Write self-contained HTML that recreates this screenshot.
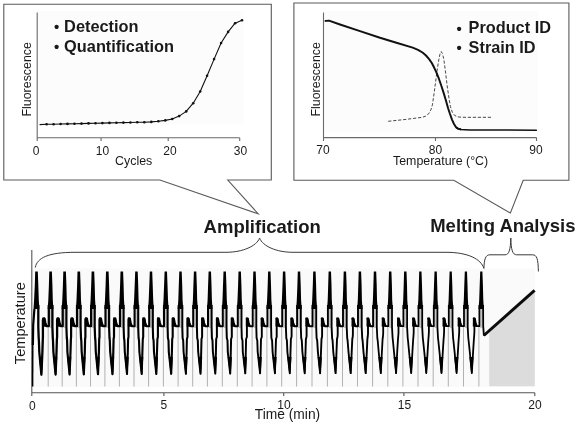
<!DOCTYPE html>
<html><head><meta charset="utf-8"><title>Rapid-cycle PCR with melting analysis</title>
<style>
html,body{margin:0;padding:0;background:#fff;}
body{width:579px;height:428px;overflow:hidden;}
svg{display:block;}
text{font-family:"Liberation Sans",Arial,Helvetica,sans-serif;fill:#1a1a1a;}
.b{font-weight:bold;fill:#111;}
.ax{stroke:#6a6a6a;stroke-width:1.1;fill:none;}
.box{stroke:#5a5a5a;stroke-width:1.1;fill:none;stroke-linejoin:miter;}
.br{stroke:#3a3a3a;stroke-width:1;fill:none;}
</style></head><body>
<svg width="579" height="428" viewBox="0 0 579 428">
<rect width="579" height="428" fill="#fff"/>
<!-- faint plot backgrounds -->
<rect x="37.5" y="11" width="206.6" height="113.3" fill="#fcfcfc"/>
<rect x="324" y="11" width="214" height="120.5" fill="#fcfcfc"/>
<rect x="32.3" y="268.5" width="502.7" height="118.5" fill="#fafafa"/>
<!-- callout boxes -->
<path class="box" d="M3.8 4.2H271.3V180H227.8L258.2 213.9L159.9 180H3.8Z"/>
<path class="box" d="M293.9 3H568.9V180.3H523.2L510.4 213L453.8 180.3H293.9Z"/>
<!-- left panel: amplification curve -->
<path class="ax" d="M37.2 12.4V137.8H239.7M37.2 137.8V141M101.1 137.8V141M168.2 137.8V141M239.7 137.8V141"/>
<g font-size="12" text-anchor="middle">
<text x="36" y="154.8">0</text><text x="102.5" y="154.8">10</text><text x="170" y="154.8">20</text><text x="240.5" y="154.8">30</text>
<text x="133.7" y="165.4" font-size="12.4">Cycles</text>
<text transform="translate(30.6 79.3) rotate(-90)" font-size="12.4">Fluorescence</text>
</g>
<path d="M39.6 124.6 L46.6 124.3 L53.6 124.2 L60.6 124 L67.5 123.9 L74.5 123.7 L81.5 123.6 L88.5 123.4 L95.5 123.2 L102.4 123.1 L109.4 122.9 L116.4 122.8 L123.4 122.6 L130.4 122.5 L137.3 122.3 L144.3 122.2 L151.3 121.9 L158.3 121.3 L165.3 120.4 L172.2 119 L179.2 116.1 L186.2 111.4 L193.2 103.2 L200.2 91.5 L207.1 75.8 L214.1 59.1 L221.1 43 L228.1 31.9 L235.1 23.2 L242 20.3" fill="none" stroke="#111" stroke-width="1.1" stroke-linejoin="round"/>
<g fill="#111"><circle cx="46.6" cy="124.3" r="1.3"/><circle cx="53.6" cy="124.2" r="1.3"/><circle cx="60.6" cy="124" r="1.3"/><circle cx="67.5" cy="123.9" r="1.3"/><circle cx="74.5" cy="123.7" r="1.3"/><circle cx="81.5" cy="123.6" r="1.3"/><circle cx="88.5" cy="123.4" r="1.3"/><circle cx="95.5" cy="123.2" r="1.3"/><circle cx="102.4" cy="123.1" r="1.3"/><circle cx="109.4" cy="122.9" r="1.3"/><circle cx="116.4" cy="122.8" r="1.3"/><circle cx="123.4" cy="122.6" r="1.3"/><circle cx="130.4" cy="122.5" r="1.3"/><circle cx="137.3" cy="122.3" r="1.3"/><circle cx="144.3" cy="122.2" r="1.3"/><circle cx="151.3" cy="121.9" r="1.3"/><circle cx="158.3" cy="121.3" r="1.3"/><circle cx="165.3" cy="120.4" r="1.3"/><circle cx="172.2" cy="119" r="1.3"/><circle cx="179.2" cy="116.1" r="1.3"/><circle cx="186.2" cy="111.4" r="1.3"/><circle cx="193.2" cy="103.2" r="1.3"/><circle cx="200.2" cy="91.5" r="1.3"/><circle cx="207.1" cy="75.8" r="1.3"/><circle cx="214.1" cy="59.1" r="1.3"/><circle cx="221.1" cy="43" r="1.3"/><circle cx="228.1" cy="31.9" r="1.3"/><circle cx="235.1" cy="23.2" r="1.3"/><circle cx="242" cy="20.3" r="1.3"/></g>
<g class="b" font-size="16.35"><text x="54" y="31.8"><tspan font-size="15" dy="0.2">•</tspan><tspan x="64.1" dy="-0.2">Detection</tspan></text><text x="54" y="51.7"><tspan font-size="15" dy="0.2">•</tspan><tspan x="64.1" dy="-0.2">Quantification</tspan></text></g>
<!-- right panel: melting curve -->
<path class="ax" d="M323.5 12.4V137.6H536.5M323.5 137.6V141M435.5 137.6V141M536.5 137.6V141"/>
<g font-size="12" text-anchor="middle">
<text x="323" y="154">70</text><text x="435.5" y="154">80</text><text x="536" y="154">90</text>
<text x="440.6" y="165" font-size="12.4">Temperature (°C)</text>
<text transform="translate(319.6 79.3) rotate(-90)" font-size="12.4">Fluorescence</text>
</g>
<path d="M388.2 121.3 L405 119.5 L422.5 117.3 L426.5 115.8 L429.1 113.1 L431 109.5 L432.4 104.9 L434 94 L435.6 82 L437.3 69 L438.9 59.1 L440 54 L441.2 51.6 L442.4 53.5 L443.8 59.1 L445.4 71 L447.1 85.3 L448.8 97 L450.4 106.5 L452.3 112.2 L454.6 115.4 L457.5 116.8 L461.8 117.3 L491.3 117.3" fill="none" stroke="#333" stroke-width="0.9" stroke-dasharray="3.2 1.8"/>
<path d="M457 128.2 L460.5 129.5 L470 129.9 L536.4 130.2" fill="none" stroke="#111" stroke-width="1.5" stroke-linejoin="round" stroke-linecap="round"/>
<path d="M325.5 20.9 L329 20.7 L340 24.5 L360 31.2 L380 37.8 L396.4 42.7 L412.7 47.6 L418 49.8 L422.5 52.5 L426 55.5 L429.1 59.1 L431.8 63 L434 67.3 L436.5 72.7 L438.9 78.7 L441.4 86 L443.8 93.4 L446 100.8 L448.1 108.2 L450 114 L452 119.6 L454 124 L455.9 127.1 L458 128.6 L460.5 129.3" fill="none" stroke="#111" stroke-width="1.95" stroke-linejoin="round" stroke-linecap="round"/>
<g class="b" font-size="16.3"><text x="456.5" y="33.3"><tspan font-size="15" dy="0.2">•</tspan><tspan x="468.6" dy="-0.2">Product ID</tspan></text><text x="456.5" y="52.8"><tspan font-size="15" dy="0.2">•</tspan><tspan x="468.6" dy="-0.2">Strain ID</tspan></text></g>
<!-- headings and braces -->
<g class="b" font-size="18.5"><text x="203.6" y="232.5">Amplification</text><text x="430.2" y="232">Melting Analysis</text></g>
<path class="br" d="M35.3 267.5C37 258 48 252.3 75 252.3H226C243 252.3 256.5 246 259.6 238.1C262.7 246 276 252.3 293 252.3H446C468 252.3 481 259 483.9 268.4"/>
<path class="br" d="M483.9 268.4C484.3 259 485.5 254.8 490 254.8H505C509 254.8 510.5 250 510.8 238C511.1 250 512.6 254.8 516.6 254.8H532.5C537 254.8 538.1 259 538.4 271.5"/>
<!-- bottom panel: temperature trace -->
<path d="M489.2 386.3V331L534.8 290.5V386.3Z" fill="#dcdcdc"/>
<path d="M48.2 326V386.5M62.2 326V386.5M76.4 326V386.5M90.5 326V386.5M104.9 326V386.5M119.4 326V386.5M134 326V386.5M148.6 326V386.5M163.4 326V386.5M178.1 326V386.5M192.7 326V386.5M207.4 326V386.5M222.3 326V386.5M237.3 326V386.5M252.1 326V386.5M266.9 326V386.5M281.7 326V386.5M296.6 326V386.5M312 326V386.5M327.4 326V386.5M342.5 326V386.5M357.5 326V386.5M372.6 326V386.5M387.8 326V386.5M402.9 326V386.5M418 326V386.5M433.2 326V386.5M448.3 326V386.5M463.5 326V386.5M478.9 326V386.5" stroke="#a8a8a8" stroke-width="0.9" fill="none"/>
<path d="M50.6 308V328M64.6 308V328M78.8 308V328M92.9 308V328M107.3 308V328M121.8 308V328M136.4 308V328M151 308V328M165.8 308V328M180.5 308V328M195.1 308V328M209.8 308V328M224.7 308V328M239.7 308V328M254.5 308V328M269.3 308V328M284.1 308V328M299 308V328M314.4 308V328M329.8 308V328M344.9 308V328M359.9 308V328M375 308V328M390.2 308V328M405.3 308V328M420.4 308V328M435.6 308V328M450.7 308V328M465.9 308V328M481.3 308V328" stroke="#c4c4c4" stroke-width="1.8" fill="none"/>
<path class="ax" style="stroke:#555" d="M31.8 250V392.8H534.8M31.8 392.8V396M163.9 392.8V396M283.7 392.8V396M403.9 392.8V396M534.8 392.8V396"/>
<defs><filter id="soft" x="-2%" y="-5%" width="104%" height="110%"><feGaussianBlur stdDeviation="0.5"/></filter></defs>
<g filter="url(#soft)"><g fill="none" stroke="#000" stroke-linejoin="round"><path d="M32.6 386.5 L32.8 340" stroke-width="1.5"/><path d="M32.9 345 L33.2 325 L34.4 309" stroke-width="2.2"/><path d="M38.3 305 L38.3 327 L38.7 338 L38.9 340.5 L39.3 352 L41.4 374.6 L42.4 352 L42.8 339 L42.9 337 L42.9 337 L42.9 320 L43.4 318.6 L44.5 318.6 L45.4 323 L46.5 326.2 L48.8 326.2 L48.8 305" stroke-width="2.3"/><path d="M52.4 305 L52.4 327 L52.8 338 L53 340.5 L53.4 352 L55.6 374.5 L56.5 352 L56.9 339 L57.1 337 L57.1 337 L57.1 320 L57.5 318.6 L58.7 318.6 L59.5 323 L60.7 326.2 L62.7 326.2 L62.7 305" stroke-width="2.3"/><path d="M66.4 305 L66.4 327 L66.8 338 L67.1 340.5 L67.4 352 L69.6 374.4 L70.5 352 L70.9 339 L71.1 337 L71.1 337 L71.1 320 L71.5 318.6 L72.7 318.6 L73.5 323 L74.7 326.2 L77 326.2 L77 305" stroke-width="2.2"/><path d="M80.6 305 L80.6 327 L81 338 L81.3 340.5 L81.7 352 L83.8 374.3 L84.8 352 L85.1 339 L85.4 337 L85.4 337 L85.4 320 L85.7 318.6 L86.9 318.6 L87.7 323 L88.9 326.2 L91.1 326.2 L91.1 305" stroke-width="2.2"/><path d="M94.7 305 L94.7 327 L95.1 338 L95.4 340.5 L95.8 352 L98 374.2 L98.9 352 L99.2 339 L99.5 337 L99.5 337 L99.5 320 L99.8 318.6 L101 318.6 L101.8 323 L103 326.2 L105.5 326.2 L105.5 305" stroke-width="2.2"/><path d="M109.1 305 L109.1 327 L109.5 338 L109.8 340.5 L110.2 352 L112.5 374.1 L113.3 352 L113.6 339 L114 337 L114 337 L114 320 L114.2 318.6 L115.4 318.6 L116.2 323 L117.4 326.2 L120 326.2 L120 305" stroke-width="2.2"/><path d="M123.6 305 L123.6 327 L124 338 L124.4 340.5 L124.8 352 L127 374 L127.8 352 L128.1 339 L128.5 337 L128.5 337 L128.5 320 L128.7 318.6 L129.9 318.6 L130.7 323 L131.9 326.2 L134.6 326.2 L134.6 305" stroke-width="2.1"/><path d="M138.2 305 L138.2 327 L138.6 338 L139 340.5 L139.4 352 L141.7 374 L142.4 352 L142.8 339 L143.2 337 L143.2 337 L143.2 320 L143.3 318.6 L144.5 318.6 L145.3 323 L146.5 326.2 L149.2 326.2 L149.2 305" stroke-width="2.1"/><path d="M152.8 305 L152.8 327 L153.1 338 L153.6 340.5 L154 352 L156.3 373.9 L157 352 L157.4 339 L157.9 337 L157.9 337 L157.9 320 L157.9 318.6 L159.1 318.6 L159.9 323 L161.1 326.2 L164 326.2 L164 305" stroke-width="2.1"/><path d="M167.6 305 L167.6 327 L167.9 338 L168.5 340.5 L168.8 352 L171.2 373.8 L171.9 352 L172.2 339 L172.7 337 L172.7 337 L172.7 320 L172.7 318.6 L173.9 318.6 L174.7 323 L175.9 326.2 L178.7 326.2 L178.7 305" stroke-width="2.1"/><path d="M182.3 305 L182.3 327 L182.6 338 L183.2 340.5 L183.6 352 L185.9 373.7 L186.6 352 L186.9 339 L187.5 337 L187.5 337 L187.5 320 L187.5 318.6 L188.7 318.6 L189.5 323 L190.7 326.2 L193.2 326.2 L193.2 305" stroke-width="2"/><path d="M196.9 305 L196.9 327 L197.2 338 L197.8 340.5 L198.2 352 L200.5 373.6 L201.2 352 L201.5 339 L202.1 337 L202.1 337 L202.1 320 L202.1 318.6 L203.3 318.6 L204.1 323 L205.3 326.2 L208 326.2 L208 305" stroke-width="2"/><path d="M211.6 305 L211.6 327 L211.9 338 L212.5 340.5 L212.9 352 L215.3 373.5 L215.9 352 L216.2 339 L216.9 337 L216.9 337 L216.9 320 L216.8 318.6 L218 318.6 L218.8 323 L220 326.2 L222.8 326.2 L222.8 305" stroke-width="2"/><path d="M226.5 305 L226.5 327 L226.8 338 L227.5 340.5 L227.8 352 L230.2 373.4 L230.8 352 L231.1 339 L231.8 337 L231.8 337 L231.8 320 L231.7 318.6 L232.9 318.6 L233.7 323 L234.9 326.2 L237.8 326.2 L237.8 305" stroke-width="2"/><path d="M241.5 305 L241.5 327 L241.8 338 L242.5 340.5 L242.8 352 L245.3 373.3 L245.8 352 L246.1 339 L246.9 337 L246.9 337 L246.9 320 L246.7 318.6 L247.9 318.6 L248.7 323 L249.9 326.2 L252.7 326.2 L252.7 305" stroke-width="1.9"/><path d="M256.3 305 L256.3 327 L256.6 338 L257.3 340.5 L257.7 352 L260.1 373.3 L260.7 352 L261 339 L261.8 337 L261.8 336.6 L261.8 320 L261.6 318.6 L262.8 318.6 L263.6 323 L264.8 326.2 L267.4 326.2 L267.4 305" stroke-width="1.9"/><path d="M271.1 305 L271.1 327 L271.4 338 L272.1 340.5 L272.6 352 L274.9 373.2 L275.6 352 L276 339 L276.7 337 L276.7 336.2 L276.7 320 L276.4 318.6 L277.6 318.6 L278.4 323 L279.6 326.2 L282.2 326.2 L282.2 305" stroke-width="1.9"/><path d="M285.9 305 L285.9 327 L286.3 338 L286.9 340.5 L287.4 352 L289.8 373.2 L290.5 352 L290.9 339 L291.5 337 L291.6 335.8 L291.6 320 L291.3 318.6 L292.5 318.6 L293.3 323 L294.5 326.2 L297.1 326.2 L297.1 305" stroke-width="1.9"/><path d="M300.8 305 L300.8 327 L301.2 338 L301.8 340.5 L302.4 352 L304.7 373.2 L305.5 352 L305.9 339 L306.5 337 L306.6 335.3 L306.6 320 L306.3 318.6 L307.5 318.6 L308.3 323 L309.5 326.2 L312.5 326.2 L312.5 305" stroke-width="1.9"/><path d="M316.2 305 L316.2 327 L316.6 338 L317.2 340.5 L317.9 352 L320.1 373.2 L321 352 L321.5 339 L322 337 L322.1 334.9 L322.1 320 L321.7 318.6 L322.9 318.6 L323.7 323 L324.9 326.2 L327.9 326.2 L327.9 305" stroke-width="1.9"/><path d="M331.6 305 L331.6 327 L332.1 338 L332.6 340.5 L333.3 352 L335.6 373.1 L336.5 352 L337 339 L337.5 337 L337.7 334.5 L337.7 320 L337.2 318.6 L338.4 318.6 L339.2 323 L340.4 326.2 L343 326.2 L343 305" stroke-width="1.9"/><path d="M346.7 305 L346.7 327 L347.2 338 L347.6 340.5 L348.5 352 L350.7 373.1 L351.7 352 L352.3 339 L352.7 337 L352.9 334.1 L352.9 320 L352.4 318.6 L353.6 318.6 L354.4 323 L355.6 326.2 L358 326.2 L358 305" stroke-width="1.9"/><path d="M361.7 305 L361.7 327 L362.2 338 L362.6 340.5 L363.5 352 L365.7 373.1 L366.8 352 L367.4 339 L367.7 337 L368 333.7 L368 320 L367.4 318.6 L368.6 318.6 L369.4 323 L370.6 326.2 L373.1 326.2 L373.1 305" stroke-width="1.9"/><path d="M376.8 305 L376.8 327 L377.3 338 L377.7 340.5 L378.7 352 L380.8 373.1 L381.9 352 L382.6 339 L382.9 337 L383.2 333.2 L383.2 320 L382.6 318.6 L383.8 318.6 L384.6 323 L385.8 326.2 L388.3 326.2 L388.3 305" stroke-width="1.8"/><path d="M392 305 L392 327 L392.6 338 L392.9 340.5 L394 352 L396.1 373.1 L397.2 352 L398 339 L398.2 337 L398.5 332.8 L398.5 320 L397.9 318.6 L399.1 318.6 L399.9 323 L401.1 326.2 L403.4 326.2 L403.4 305" stroke-width="1.8"/><path d="M407.1 305 L407.1 327 L407.7 338 L408 340.5 L409.1 352 L411.2 373 L412.4 352 L413.2 339 L413.4 337 L413.7 332.4 L413.7 320 L413 318.6 L414.2 318.6 L415 323 L416.2 326.2 L418.5 326.2 L418.5 305" stroke-width="1.8"/><path d="M422.2 305 L422.2 327 L422.8 338 L423.1 340.5 L424.3 352 L426.3 373 L427.6 352 L428.4 339 L428.6 337 L428.9 332 L428.9 320 L428.2 318.6 L429.4 318.6 L430.2 323 L431.4 326.2 L433.8 326.2 L433.8 305" stroke-width="1.8"/><path d="M437.4 305 L437.4 327 L438 338 L438.3 340.5 L439.5 352 L441.5 373 L442.8 352 L443.6 339 L443.8 337 L444.1 332 L444.1 320 L443.4 318.6 L444.6 318.6 L445.4 323 L446.6 326.2 L448.8 326.2 L448.8 305" stroke-width="1.8"/><path d="M452.5 305 L452.5 327 L453.1 338 L453.4 340.5 L454.6 352 L456.6 373 L457.9 352 L458.7 339 L458.9 337 L459.2 332 L459.2 320 L458.5 318.6 L459.7 318.6 L460.5 323 L461.7 326.2 L464 326.2 L464 305" stroke-width="1.8"/><path d="M467.7 305 L467.7 327 L468.3 338 L468.6 340.5 L469.8 352 L471.8 373 L473.1 352 L473.9 339 L474.1 337 L474.4 332 L474.4 320 L473.7 318.6 L474.9 318.6 L475.7 323 L476.9 326.2 L479.4 326.2 L479.4 305" stroke-width="1.8"/><path d="M483.1 305 L483.2 326 L483.9 335.8" stroke-width="1.8"/></g>
<path d="M35.2 271.5 L37.8 271.5 L38.3 285 L38.8 300 L39.4 309 L33.5 309 L34.1 300 L34.8 285ZM49.3 271.5 L51.9 271.5 L52.4 285 L52.8 300 L53.4 309 L47.7 309 L48.3 300 L48.9 285ZM63.3 271.5 L65.9 271.5 L66.4 285 L66.8 300 L67.4 309 L61.7 309 L62.3 300 L62.9 285ZM77.5 271.5 L80.1 271.5 L80.6 285 L81 300 L81.6 309 L75.9 309 L76.5 300 L77.1 285ZM91.6 271.5 L94.2 271.5 L94.7 285 L95.1 300 L95.7 309 L90 309 L90.6 300 L91.2 285ZM106 271.5 L108.6 271.5 L109.1 285 L109.5 300 L110.1 309 L104.4 309 L105 300 L105.6 285ZM120.5 271.5 L123.1 271.5 L123.6 285 L124 300 L124.6 309 L118.9 309 L119.5 300 L120.1 285ZM135.2 271.5 L137.7 271.5 L138.2 285 L138.6 300 L139.2 309 L133.5 309 L134.1 300 L134.7 285ZM149.8 271.5 L152.2 271.5 L152.7 285 L153.2 300 L153.8 309 L148.1 309 L148.7 300 L149.3 285ZM164.6 271.5 L167 271.5 L167.5 285 L168 300 L168.6 309 L162.9 309 L163.5 300 L164.1 285ZM179.3 271.5 L181.7 271.5 L182.2 285 L182.6 300 L183.2 309 L177.7 309 L178.3 300 L178.8 285ZM193.9 271.5 L196.3 271.5 L196.8 285 L197.2 300 L197.8 309 L192.3 309 L192.9 300 L193.4 285ZM208.6 271.5 L211 271.5 L211.5 285 L211.9 300 L212.5 309 L207 309 L207.6 300 L208.1 285ZM223.5 271.5 L225.9 271.5 L226.4 285 L226.8 300 L227.4 309 L221.9 309 L222.5 300 L223 285ZM238.5 271.5 L240.9 271.5 L241.4 285 L241.8 300 L242.4 309 L236.9 309 L237.5 300 L238.1 285ZM253.3 271.5 L255.7 271.5 L256.2 285 L256.6 300 L257.2 309 L251.7 309 L252.3 300 L252.9 285ZM268.1 271.5 L270.5 271.5 L271 285 L271.4 300 L272 309 L266.5 309 L267.1 300 L267.7 285ZM282.9 271.5 L285.3 271.5 L285.8 285 L286.2 300 L286.8 309 L281.3 309 L281.9 300 L282.5 285ZM297.8 271.5 L300.2 271.5 L300.7 285 L301.1 300 L301.7 309 L296.2 309 L296.8 300 L297.4 285ZM313.2 271.5 L315.6 271.5 L316.1 285 L316.5 300 L317.1 309 L311.6 309 L312.2 300 L312.8 285ZM328.6 271.5 L331 271.5 L331.5 285 L331.8 300 L332.4 309 L327.1 309 L327.7 300 L328.2 285ZM343.7 271.5 L346.1 271.5 L346.6 285 L346.9 300 L347.5 309 L342.2 309 L342.8 300 L343.3 285ZM358.7 271.5 L361.1 271.5 L361.6 285 L361.9 300 L362.5 309 L357.2 309 L357.8 300 L358.3 285ZM373.8 271.5 L376.2 271.5 L376.7 285 L377 300 L377.6 309 L372.3 309 L372.9 300 L373.4 285ZM389 271.5 L391.4 271.5 L391.9 285 L392.2 300 L392.8 309 L387.5 309 L388.1 300 L388.6 285ZM404.1 271.5 L406.5 271.5 L407 285 L407.3 300 L407.9 309 L402.6 309 L403.2 300 L403.7 285ZM419.2 271.5 L421.5 271.5 L422 285 L422.4 300 L423 309 L417.7 309 L418.3 300 L418.8 285ZM434.5 271.5 L436.8 271.5 L437.2 285 L437.6 300 L438.2 309 L432.9 309 L433.5 300 L434 285ZM449.6 271.5 L451.8 271.5 L452.3 285 L452.7 300 L453.3 309 L448 309 L448.6 300 L449.1 285ZM464.8 271.5 L467 271.5 L467.5 285 L467.9 300 L468.5 309 L463.2 309 L463.8 300 L464.3 285ZM480.2 271.5 L482.4 271.5 L482.9 285 L483.3 300 L483.9 309 L478.6 309 L479.2 300 L479.7 285Z" fill="#000"/><path d="M42.5 326.6 L42.5 317.6 L44.9 317.6 L45.8 322 L47 327ZM39 357 L40.9 375.4 L41.9 375.4 L43.1 357ZM56.6 326.6 L56.7 317.6 L59 317.6 L59.9 322 L61.1 327ZM53.2 357 L55 375.3 L56.1 375.3 L57.3 357ZM70.6 326.6 L70.7 317.6 L73 317.6 L73.9 322 L75.1 327ZM67.2 357 L69 375.2 L70.1 375.2 L71.3 357ZM84.8 326.6 L84.9 317.6 L87.2 317.6 L88.1 322 L89.3 327ZM81.4 357 L83.3 375.1 L84.4 375.1 L85.5 357ZM98.9 326.6 L99 317.6 L101.3 317.6 L102.2 322 L103.4 327ZM95.6 357 L97.5 375 L98.5 375 L99.7 357ZM113.3 326.6 L113.4 317.6 L115.7 317.6 L116.6 322 L117.8 327ZM110 357 L111.9 374.9 L113 374.9 L114.2 357ZM127.8 326.6 L127.9 317.6 L130.2 317.6 L131.1 322 L132.3 327ZM124.6 357 L126.5 374.8 L127.5 374.8 L128.7 357ZM142.4 326.6 L142.5 317.6 L144.8 317.6 L145.7 322 L146.9 327ZM139.2 357 L141.1 374.8 L142.2 374.8 L143.3 357ZM157 326.6 L157.1 317.6 L159.4 317.6 L160.3 322 L161.5 327ZM153.9 357 L155.8 374.7 L156.9 374.7 L158 357ZM171.8 326.6 L171.9 317.6 L174.2 317.6 L175.1 322 L176.3 327ZM168.8 357 L170.6 374.6 L171.7 374.6 L172.8 357ZM186.6 326.6 L186.7 317.6 L189 317.6 L189.9 322 L191.1 327ZM183.5 357 L185.3 374.5 L186.5 374.5 L187.6 357ZM201.2 326.6 L201.3 317.6 L203.6 317.6 L204.5 322 L205.7 327ZM198.1 357 L200 374.4 L201.1 374.4 L202.2 357ZM215.9 326.6 L216 317.6 L218.3 317.6 L219.2 322 L220.4 327ZM212.9 357 L214.8 374.3 L215.9 374.3 L217 357ZM230.8 326.6 L230.9 317.6 L233.2 317.6 L234.1 322 L235.3 327ZM227.8 357 L229.7 374.2 L230.8 374.2 L231.9 357ZM245.8 326.6 L245.9 317.6 L248.2 317.6 L249.1 322 L250.3 327ZM242.9 357 L244.7 374.1 L245.8 374.1 L247 357ZM260.7 326.6 L260.8 317.6 L263.1 317.6 L264 322 L265.2 327ZM257.7 357 L259.6 374.1 L260.7 374.1 L261.8 357ZM275.5 326.6 L275.6 317.6 L277.9 317.6 L278.8 322 L280 327ZM272.6 357 L274.4 374.1 L275.5 374.1 L276.6 357ZM290.4 326.6 L290.5 317.6 L292.8 317.6 L293.7 322 L294.9 327ZM287.4 357 L289.2 374 L290.3 374 L291.5 357ZM305.4 326.6 L305.5 317.6 L307.8 317.6 L308.7 322 L309.9 327ZM302.3 357 L304.1 374 L305.2 374 L306.4 357ZM320.8 326.6 L320.9 317.6 L323.2 317.6 L324.1 322 L325.3 327ZM317.7 357 L319.6 374 L320.7 374 L321.8 357ZM336.3 326.6 L336.4 317.6 L338.7 317.6 L339.6 322 L340.8 327ZM333.2 357 L335 373.9 L336.1 373.9 L337.2 357ZM351.5 326.6 L351.6 317.6 L353.9 317.6 L354.8 322 L356 327ZM348.3 357 L350.1 373.9 L351.2 373.9 L352.4 357ZM366.5 326.6 L366.6 317.6 L368.9 317.6 L369.8 322 L371 327ZM363.3 357 L365.1 373.9 L366.2 373.9 L367.4 357ZM381.7 326.6 L381.8 317.6 L384.1 317.6 L385 322 L386.2 327ZM378.4 357 L380.3 373.9 L381.4 373.9 L382.5 357ZM397 326.6 L397.1 317.6 L399.4 317.6 L400.3 322 L401.5 327ZM393.7 357 L395.5 373.9 L396.6 373.9 L397.8 357ZM412.1 326.6 L412.2 317.6 L414.5 317.6 L415.4 322 L416.6 327ZM408.8 357 L410.6 373.8 L411.7 373.8 L412.9 357ZM427.3 326.6 L427.4 317.6 L429.7 317.6 L430.6 322 L431.8 327ZM423.9 357 L425.7 373.8 L426.8 373.8 L428 357ZM442.5 326.6 L442.6 317.6 L444.9 317.6 L445.8 322 L447 327ZM439.1 357 L440.9 373.8 L442.1 373.8 L443.2 357ZM457.6 326.6 L457.7 317.6 L460 317.6 L460.9 322 L462.1 327ZM454.2 357 L456 373.8 L457.1 373.8 L458.3 357ZM472.8 326.6 L472.9 317.6 L475.2 317.6 L476.1 322 L477.3 327ZM469.4 357 L471.2 373.8 L472.3 373.8 L473.5 357Z" fill="#000"/></g>
<path d="M483.8 335.5L534.6 290.3" stroke="#0c0c0c" stroke-width="3" fill="none"/>
<g font-size="12" text-anchor="middle">
<text x="32.3" y="409.6">0</text><text x="163.9" y="409.2">5</text><text x="283.9" y="409.2">10</text><text x="404.5" y="409.2">15</text><text x="535" y="409.2">20</text>
</g>
<text x="287.5" y="419.4" font-size="13.8" text-anchor="middle">Time (min)</text>
<text transform="translate(24.7 323.2) rotate(-90)" font-size="14.6" text-anchor="middle">Temperature</text>
</svg>
</body></html>
